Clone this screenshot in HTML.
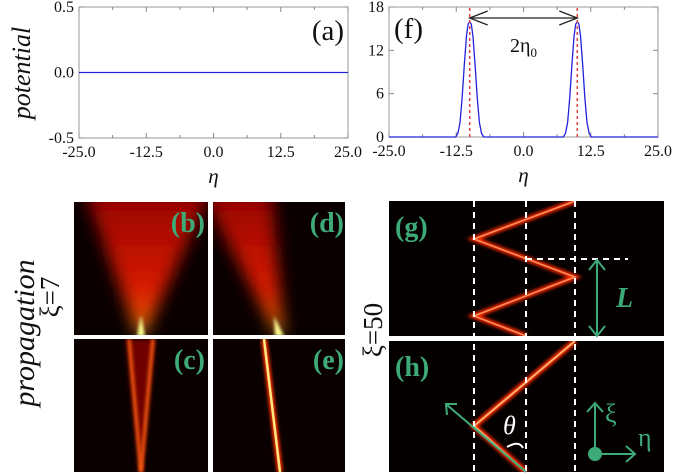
<!DOCTYPE html>
<html><head><meta charset="utf-8"><style>
body{margin:0;background:#fff;width:675px;height:474px;overflow:hidden}
svg{display:block;font-family:"Liberation Serif",serif}
</style></head><body>
<svg id="fig" width="675" height="474" viewBox="0 0 675 474">
<defs>
<filter id="bl" x="-50%" y="-50%" width="200%" height="200%"><feGaussianBlur stdDeviation="8"/></filter>
<filter id="bl2" x="-50%" y="-50%" width="200%" height="200%"><feGaussianBlur stdDeviation="1.5"/></filter>
<filter id="bl3" x="-50%" y="-50%" width="200%" height="200%"><feGaussianBlur stdDeviation="3"/></filter>
<linearGradient id="cone" x1="0" y1="1" x2="0" y2="0"><stop offset="0" stop-color="#ffc040"/><stop offset="0.1" stop-color="#ff6000"/><stop offset="0.3" stop-color="#f02000"/><stop offset="1" stop-color="#a00000"/></linearGradient>
<clipPath id="cb"><rect x="74" y="202" width="134" height="133"/></clipPath>
<clipPath id="cd"><rect x="213" y="202" width="132" height="133"/></clipPath>
<clipPath id="cc"><rect x="74" y="339" width="134" height="133"/></clipPath>
<clipPath id="ce"><rect x="213" y="339" width="132" height="133"/></clipPath>
<clipPath id="cg"><rect x="389" y="201" width="275" height="135"/></clipPath>
<clipPath id="ch"><rect x="389" y="341" width="275" height="131"/></clipPath>
</defs>
<g id="pa"></g>
<g id="pf"></g>
<text transform="translate(30,73) rotate(-90)" text-anchor="middle" font-size="26" font-style="italic" fill="#111">potential</text>

<g clip-path="url(#cb)">
<rect x="74" y="202" width="134" height="133" fill="#0a0000"/>
<polygon points="84,190 212,190 144,335 138,335" fill="url(#cone)" filter="url(#bl)" opacity="0.9"/>
<polygon points="137,336 145,336 141,315" fill="#ffff90" filter="url(#bl2)"/>
</g>
<g clip-path="url(#cd)">
<rect x="213" y="202" width="132" height="133" fill="#0a0000"/>
<polygon points="200,190 272,190 283,335 277,335" fill="url(#cone)" filter="url(#bl)" opacity="0.9"/>
<polygon points="275,336 284,336 274,316" fill="#ffff90" filter="url(#bl2)"/>
</g>
<g clip-path="url(#cc)">
<rect x="74" y="339" width="134" height="133" fill="#0a0000"/>
<polygon points="126,339 155,339 142,472 140,472" fill="#700000" filter="url(#bl3)"/>
<line x1="129" y1="339" x2="141" y2="472" stroke="#ff5a10" stroke-width="3.5" filter="url(#bl2)"/>
<line x1="153" y1="339" x2="141" y2="472" stroke="#ff5a10" stroke-width="3.5" filter="url(#bl2)"/>
<line x1="141" y1="425" x2="141" y2="472" stroke="#ffe060" stroke-width="3" filter="url(#bl2)"/>
</g>
<g clip-path="url(#ce)">
<rect x="213" y="339" width="132" height="133" fill="#0a0000"/>
<line x1="264" y1="339" x2="280" y2="472" stroke="#ff3000" stroke-width="6" filter="url(#bl2)"/>
<line x1="264" y1="339" x2="280" y2="472" stroke="#ffe880" stroke-width="2.5"/>
</g>
<g font-size="28" font-weight="bold" fill="#3daa78" text-anchor="end">
<text x="205" y="232">(b)</text>
<text x="344" y="232">(d)</text>
<text x="205" y="369">(c)</text>
<text x="344" y="369">(e)</text>
</g>
<text transform="translate(34,333) rotate(-90)" text-anchor="middle" font-size="30" font-style="italic" fill="#111">propagation</text>
<text transform="translate(59,297) rotate(-90)" text-anchor="middle" font-size="27" fill="#111">ξ=7</text>
<text transform="translate(382,330) rotate(-90)" text-anchor="middle" font-size="27" fill="#111">ξ=50</text>

<g clip-path="url(#cg)">
<rect x="389" y="201" width="275" height="135" fill="#050000"/>
<polyline points="575,201 474,239 575,277 474,316 526,336" fill="none" stroke="#ff2a00" stroke-width="5" filter="url(#bl2)"/>
<polyline points="575,201 474,239 575,277 474,316 526,336" fill="none" stroke="#ff9060" stroke-width="1.5"/>
</g>
<g clip-path="url(#ch)">
<rect x="389" y="341" width="275" height="131" fill="#050000"/>
<polyline points="575,341 474,426 526,472" fill="none" stroke="#ff2a00" stroke-width="6" filter="url(#bl2)"/>
<polyline points="575,341 474,426 526,472" fill="none" stroke="#ffb070" stroke-width="2"/>
</g>
<g stroke="#fff" stroke-width="2" stroke-dasharray="6,5">
<line x1="474" y1="201" x2="474" y2="472"/><line x1="526" y1="201" x2="526" y2="472"/><line x1="575" y1="201" x2="575" y2="472"/>
<line x1="526" y1="259" x2="628" y2="259"/>
</g>
<g stroke="#3daa78" stroke-width="2" fill="none">
<line x1="597" y1="261" x2="597" y2="335"/>
<polyline points="589,270 597,260 605,270"/><polyline points="589,326 597,336 605,326"/>
<line x1="526" y1="472" x2="447" y2="405"/>
<polyline points="447,415 446,404 457,404"/>
<line x1="595" y1="454" x2="595" y2="404"/>
<polyline points="587,412 595,403 603,412"/>
<line x1="595" y1="454" x2="634" y2="454"/>
<polyline points="626,446 635,454 626,462"/>
</g>
<circle cx="595" cy="454" r="7" fill="#3daa78"/>
<path d="M507,447 Q519,440 523,448" stroke="#fff" stroke-width="2" fill="none"/>
<text x="503" y="434" font-size="26" font-style="italic" fill="#fff">θ</text>
<text x="605" y="422" font-size="26" fill="#3daa78">ξ</text>
<text x="638" y="446" font-size="26" fill="#3daa78">η</text>
<text x="616" y="307" font-size="28" font-weight="bold" font-style="italic" fill="#3daa78">L</text>
<text x="395" y="236" font-size="28" font-weight="bold" fill="#3daa78">(g)</text>
<text x="395" y="376" font-size="28" font-weight="bold" fill="#3daa78">(h)</text>
</svg>
<script>
const xTicks=["-25.0","-12.5","0.0","12.5","25.0"];
const xTickVals=[-25,-12.5,0,12.5,25];
const aYTicks=[-0.5,0,0.5];
const aYLabels=["-0.5","0.0","0.5"];
const aEta=[-25,25];
const aPot=[0,0];
const fYTicks=[0,6,12,18];
const fEta=[-25,-12.6,-12.2,-11.8,-11.4,-11,-10.6,-10.3,-10,-9.7,-9.4,-9,-8.6,-8.2,-7.8,-7.4,7.4,7.8,8.2,8.6,9,9.4,9.7,10,10.3,10.6,11,11.4,11.8,12.2,12.6,25];
const fPot=[0,0,0.5,2,5.5,10,14,15.6,16,15.6,14,10,5.5,2,0.5,0,0,0.5,2,5.5,10,14,15.6,16,15.6,14,10,5.5,2,0.5,0,0];
const peakEta=[-10,10];
const NS="http://www.w3.org/2000/svg";
function mk(parent,tag,attrs,txt){const e=document.createElementNS(NS,tag);for(const k in attrs)e.setAttribute(k,attrs[k]);if(txt!==undefined)e.textContent=txt;parent.appendChild(e);return e;}
function axes(g,x0,x1,y0,y1,ymin,ymax,yt,yl,etas,vals){
 const sx=v=>x0+(v+25)/50*(x1-x0), sy=v=>y1-(v-ymin)/(ymax-ymin)*(y1-y0);
 const fr=mk(g,'rect',{x:x0,y:y0,width:x1-x0,height:y1-y0,fill:'none',stroke:'#999','stroke-width':1});
 
 
 for(let i=0;i<=8;i++){const v=-25+i*6.25;const x=sx(v);const L=i%2==0?5:3;
  mk(g,'line',{x1:x,y1:y1,x2:x,y2:y1-L,stroke:'#888'});mk(g,'line',{x1:x,y1:y0,x2:x,y2:y0+L,stroke:'#888'});}
 xTickVals.forEach((v,i)=>{const t=mk(g,'text',{x:sx(v),y:y1+19,'text-anchor':'middle','font-size':16,fill:'#111'},xTicks[i]);
  
  });
 yt.forEach((v,i)=>{const y=sy(v);mk(g,'line',{x1:x0,y1:y,x2:x0+5,y2:y,stroke:'#888'});mk(g,'line',{x1:x1,y1:y,x2:x1-5,y2:y,stroke:'#888'});
  const t=mk(g,'text',{x:x0-5,y:y+5,'text-anchor':'end','font-size':16,fill:'#111'},yl[i]);
  
  });
 const xt=mk(g,'text',{x:(x0+x1)/2,y:y1+45,'text-anchor':'middle','font-size':21,'font-style':'italic',fill:'#111'},'η');
 
 
 const pl=mk(g,'polyline',{points:etas.map((e,i)=>sx(e)+','+sy(vals[i])).join(' '),fill:'none',stroke:'#2222dd','stroke-width':1.3});
 
 
 return {sx,sy};
}
const ga=document.getElementById('pa');
axes(ga,79,348,7,138,-0.5,0.5,aYTicks,aYLabels,aEta,aPot);
const la=mk(ga,'text',{x:344,y:40,'text-anchor':'end','font-size':29,fill:'#111'},'(a)');


const gf=document.getElementById('pf');
const s=axes(gf,389,658,7,137,0,18,fYTicks,fYTicks.map(String),fEta,fPot);
peakEta.forEach(e=>{const l=mk(gf,'line',{x1:s.sx(e),y1:s.sy(0),x2:s.sx(e),y2:s.sy(18),stroke:'#e04040','stroke-width':1.5,'stroke-dasharray':'3,3'});
 
 });
const ay=s.sy(16.2)-2, ax0=s.sx(peakEta[0]), ax1=s.sx(peakEta[1]);
const ar=mk(gf,'g',{stroke:'#222','stroke-width':1.3,fill:'none'});


mk(ar,'line',{x1:ax0,y1:ay,x2:ax1,y2:ay});
mk(ar,'polyline',{points:`${ax0+18},${ay-7} ${ax0},${ay} ${ax0+18},${ay+7}`});
mk(ar,'polyline',{points:`${ax1-18},${ay-7} ${ax1},${ay} ${ax1-18},${ay+7}`});
const lbl=mk(gf,'text',{x:(ax0+ax1)/2,y:52,'text-anchor':'middle','font-size':20,fill:'#111'},'2η');
mk(lbl,'tspan',{'font-size':13,dy:5},'0');


const lf=mk(gf,'text',{x:394,y:38,'font-size':29,fill:'#111'},'(f)');


</script>
</body></html>
